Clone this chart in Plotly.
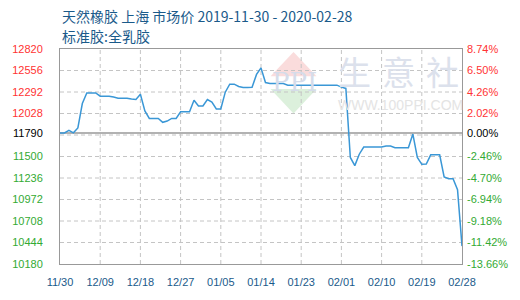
import pandas as pd
import plotly.graph_objects as go

# ---- data ----
start_date = "2019-11-30"
end_date = "2020-02-28"
prices = [
    11790, 11790, 11820, 11790, 11850, 12150, 12280, 12280, 12280, 12240,
    12240, 12240, 12230, 12216, 12216, 12216, 12205, 12200, 12264, 12060,
    11968, 11968, 11968, 11920, 11935, 11968, 11968, 12048, 12048, 12048,
    12190, 12120, 12120, 12200, 12168, 12084, 12084, 12290, 12388, 12388,
    12360, 12348, 12348, 12350, 12508, 12588, 12408, 12396, 12396, 12396,
    12396, 12376, 12376, 12376, 12376, 12376, 12376, 12376, 12376, 12376,
    12376, 12376, 12376, 12352, 12336, 11488, 11388, 11528, 11616, 11616,
    11616, 11616, 11616, 11628, 11628, 11608, 11608, 11608, 11608, 11776,
    11488, 11404, 11408, 11520, 11520, 11520, 11250, 11228, 11228, 11092,
    10400,
]
y_grid = [10180, 10444, 10708, 10972, 11236, 11500, 11764, 12028, 12292, 12556, 12820]
y_label_vals = [10180, 10444, 10708, 10972, 11236, 11500, 11790, 12028, 12292, 12556, 12820]
left_labels = ["10180", "10444", "10708", "10972", "11236", "11500", "11790",
               "12028", "12292", "12556", "12820"]
right_labels = ["-13.66%", "-11.42%", "-9.18%", "-6.94%", "-4.70%", "-2.46%", "0.00%",
                "2.02%", "4.26%", "6.50%", "8.74%"]
title_line1 = "天然橡胶 上海 市场价 2019-11-30 - 2020-02-28"
title_line2 = "标准胶:全乳胶"

dates = pd.date_range(start_date, end_date, freq="D")
base = prices[0]
x_ticks = list(dates[::9])
x_ticktext = [d.strftime("%m/%d") for d in x_ticks]

RED, GREEN, BLACK = "#ff3333", "#33aa33", "#000000"


def colored(vals, labels):
    out = []
    for v, t in zip(vals, labels):
        c = RED if v > base else (GREEN if v < base else BLACK)
        out.append(f'<span style="color:{c}">{t}</span>')
    return out


W, H = 520, 300
ML, MR, MT, MB = 50, 50, 49, 31
PW, PH = W - ML - MR, H - MT - MB


def px(x):
    return (x - ML) / PW


def py(y):
    return (H - MB - y) / PH


GRID = "#c4c4c4"
fig = go.Figure()

# grid lines as line traces built from the tick arrays
gx, gy = [], []
for v in y_grid[1:-1]:
    gx += [dates[0], dates[-1], None]
    gy += [v, v, None]
for d in x_ticks[1:-1]:
    gx += [d, d, None]
    gy += [y_grid[0], y_grid[-1], None]
fig.add_trace(go.Scatter(x=gx, y=gy, mode="lines", connectgaps=False,
                         line=dict(color=GRID, width=1, dash="4px,3px"),
                         hoverinfo="skip", showlegend=False))

fig.add_trace(go.Scatter(x=[dates[0], dates[-1]], y=[base, base], mode="lines",
                         line=dict(color="#999999", width=1.5),
                         hoverinfo="skip", showlegend=False))
fig.add_trace(go.Scatter(x=dates, y=prices, mode="lines",
                         line=dict(color="#3a97d6", width=1.5),
                         hoverinfo="skip", showlegend=False))
fig.add_trace(go.Scatter(x=[dates[0], dates[-1]], y=[base, base], mode="lines",
                         line=dict(color="rgba(0,0,0,0)", width=0),
                         yaxis="y2", hoverinfo="skip", showlegend=False))

yrange = [y_grid[0], y_grid[-1]]
tickfont = dict(family="Liberation Sans, Noto Sans CJK SC", size=11)

fig.update_layout(
    width=W, height=H,
    margin=dict(l=ML, r=MR, t=MT, b=MB),
    paper_bgcolor="white", plot_bgcolor="white",
    showlegend=False,
    xaxis=dict(
        type="date", range=[dates[0], dates[-1]],
        tickmode="array", tickvals=x_ticks, ticktext=x_ticktext,
        showgrid=False,
        showline=True, linecolor="#999999", linewidth=1, mirror=True,
        ticks="", tickfont=dict(tickfont, color="#1a5a8a"),
        ticklabelstandoff=8, zeroline=False,
    ),
    yaxis=dict(
        range=yrange, tickmode="array", tickvals=y_label_vals,
        ticktext=colored(y_label_vals, left_labels),
        showgrid=False, zeroline=False,
        showline=True, linecolor="#999999", linewidth=1, mirror=True,
        ticks="", tickfont=tickfont, ticklabelstandoff=14,
    ),
    yaxis2=dict(
        range=yrange, overlaying="y", side="right", tickmode="array",
        tickvals=y_label_vals, ticktext=colored(y_label_vals, right_labels),
        showgrid=False, zeroline=False, showline=False,
        ticks="", tickfont=tickfont, ticklabelstandoff=4,
    ),
)

# watermark logo shapes (paper coords)
fig.add_shape(type="path", xref="paper", yref="paper", layer="below",
              path=f"M {px(294)} {py(52)} L {px(318)} {py(77)} L {px(270)} {py(77)} Z",
              fillcolor="#fadcdc", line=dict(width=0))
fig.add_shape(type="path", xref="paper", yref="paper", layer="below",
              path=f"M {px(270)} {py(90)} L {px(318)} {py(90)} L {px(294)} {py(115)} Z",
              fillcolor="#dcf0dc", line=dict(width=0))

annos = [
    dict(text=title_line1, x=px(50), y=py(15.5), xanchor="left", yanchor="middle",
         font=dict(family="Noto Sans CJK SC", size=14, color="#1a5a8a")),
    dict(text=title_line2, x=px(50), y=py(36), xanchor="left", yanchor="middle",
         font=dict(family="Noto Sans CJK SC", size=14, color="#1a5a8a")),
    dict(text="PPI", x=px(295), y=py(83), xanchor="center", yanchor="middle",
         font=dict(family="DejaVu Serif", size=26, color="#d5dcea")),
    dict(text="生\u2004意\u2004社", x=px(404), y=py(72), xanchor="center", yanchor="middle",
         font=dict(family="Noto Sans CJK SC", size=33, color="#dce1ec")),
    dict(text="WWW.100PPI.COM", x=px(406), y=py(106), xanchor="center", yanchor="middle",
         font=dict(family="Liberation Sans", size=14, color="#e4e4e4")),
]
for a in annos:
    fig.add_annotation(xref="paper", yref="paper", showarrow=False, **a)

fig.write_html("out.html")
